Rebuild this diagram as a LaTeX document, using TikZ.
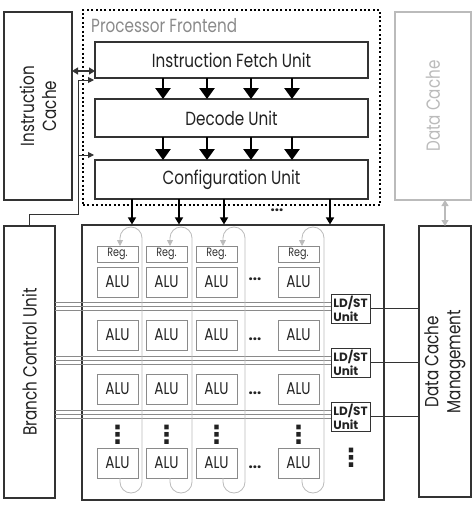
\documentclass[tikz,border=0pt]{standalone}
\usepackage{fontspec}
\setmainfont{Poppins}[FakeStretch=0.8]
\newfontfamily\widefont{Poppins}
\newfontfamily\dvfont{DejaVu Sans}
\usetikzlibrary{arrows.meta,calc}
\definecolor{dk}{HTML}{333333}
\definecolor{txt}{HTML}{222222}
\definecolor{lg}{HTML}{BBBBBB}
\definecolor{mg}{HTML}{8A8A8A}
\begin{document}
\begin{tikzpicture}[x=1pt,y=-1pt,
  box/.style={draw=dk, line width=1.1pt, inner sep=0pt, outer sep=0pt, text=txt, font=\fontsize{19}{22}\selectfont},
  alu/.style={draw=mg, line width=0.9pt, inner sep=0pt, outer sep=0pt, minimum width=41pt, minimum height=30pt, text=txt, font=\fontsize{17}{19}\selectfont},
  reg/.style={draw=mg, line width=0.9pt, inner sep=0pt, outer sep=0pt, minimum width=41pt, minimum height=16pt, text=dk, font=\fontsize{12}{14}\selectfont},
  ldst/.style={draw=dk, line width=0.9pt, inner sep=0pt, outer sep=0pt, minimum width=39pt, minimum height=29pt, text=txt, align=left, font=\widefont\bfseries\fontsize{12}{14}\selectfont},
  fat/.style={draw=black, line width=2.6pt, -{Triangle[width=15pt,length=11pt]}},
  cfgarr/.style={draw=black, line width=1.6pt, -{Triangle[width=8pt,length=7pt]}},
  thin/.style={draw=dk, line width=1pt},
  smarr/.style={draw=dk, line width=1pt, -{Triangle[width=6pt,length=6pt]}},
  dblarr/.style={draw=dk, line width=1.2pt, {Triangle[width=7pt,length=6pt]}-{Triangle[width=7pt,length=6pt]}},
  gdbl/.style={draw=lg, line width=1.3pt, {Triangle[width=7pt,length=6pt]}-{Triangle[width=7pt,length=6pt]}},
  colloop/.style={draw=lg, line width=0.8pt, -{Triangle[width=6pt,length=6pt]}},
  bus/.style={draw=mg, line width=0.8pt},
  dts/.style={inner sep=0pt, text=txt, font=\widefont\bfseries\fontsize{15}{16}\selectfont},
  vdts/.style={inner sep=0pt, text=txt, font=\dvfont\bfseries\fontsize{25}{27}\selectfont}
]
\useasboundingbox (0,0) rectangle (474,506);

% caches and side units
\node[box, minimum width=188pt, minimum height=68pt, rotate=90, align=center] (icache) at (38,106) {Instruction\\Cache};
\node[box, draw=lg, text=lg, minimum width=188pt, minimum height=76pt, rotate=90] (dcache) at (433,106) {Data Cache};
\node[box, minimum width=272pt, minimum height=51pt, rotate=90] (bcu) at (29.5,362) {Branch Control Unit};
\node[box, minimum width=271pt, minimum height=52pt, rotate=90, align=center] (dcm) at (445,361.5) {Data Cache\\Management};

% processor frontend
\node[draw=black, line width=1.6pt, dash pattern=on 2pt off 2.4pt, minimum width=297pt, minimum height=195pt, inner sep=0pt] (fe) at (231.5,107.5) {};
\node[anchor=west, inner sep=0pt, text=mg, font=\fontsize{19}{22}\selectfont] (fetitle) at (91,26) {Processor Frontend};
\node[box, minimum width=273pt, minimum height=36pt] (ifu) at (231.5,60) {Instruction Fetch Unit};
\node[box, minimum width=273pt, minimum height=38pt] (dec) at (231.5,118) {Decode Unit};
\node[box, minimum width=273pt, minimum height=39pt] (cfg) at (231.5,179.5) {Configuration Unit};

\foreach \s in {-68.5,-24.5,19.5,60.5}{
  \draw[fat] ([xshift=\s pt]ifu.south) -- ([xshift=\s pt]dec.north);
  \draw[fat] ([xshift=\s pt]dec.south) -- ([xshift=\s pt]cfg.north);
}

% array
\node[draw=dk, line width=1.1pt, minimum width=302pt, minimum height=275pt, inner sep=0pt] (arr) at (233,362.5) {};

\foreach \s in {-99.5,-52.5,-7.5,98.5}{
  \draw[cfgarr] ([xshift=\s pt]cfg.south) -- ([xshift=\s pt]cfg.south |- arr.north);
}
\node[dts] (cdots) at (277,210) {...};

% regs and alus
\foreach \c/\x in {1/117.5,2/166.5,3/216.5,4/298.5}{
  \node[reg] (reg\c) at (\x,254) {Reg.};
  \foreach \r/\y in {1/282,2/335,3/389,4/463}{
    \node[alu] (alu\r\c) at (\x,\y) {ALU};
  }
}

% ld/st units
\foreach \r/\y in {1/308.5,2/362.5,3/416.5}{
  \node[ldst] (ls\r) at (350.5,\y) {LD/ST\\Unit};
  \draw[thin] (ls\r.east) -- (ls\r.east -| dcm.north);
  \foreach \o in {-6.5,-2.5,1.5}{
    \draw[bus] ([yshift=-\o pt]ls\r.west -| bcu.south) -- ([yshift=-\o pt]ls\r.west);
  }
}

% column loops
\foreach \c/\s in {1/2.5,2/3.5,3/6.5,4/3.5}{
  \draw[colloop] ([xshift=\s pt]alu4\c.south) -- ++(0,4) arc[start angle=180,end angle=0,radius=11] -- ++(0,-244) arc[start angle=0,end angle=-180,radius=11] -- ([xshift=\s pt]reg\c.north);
}

% dots
\foreach \r/\y in {1/279,2/339,3/393,4/467}{
  \node[dts] (hd\r) at (255,\y) {...};
}
\foreach \c in {1,2,3,4}{
  \node[vdts] (vd\c) at ([yshift=13pt]alu4\c.north) {⋮};
}
\node[vdts] (vdr) at (351,458) {⋮};

% connections to instruction cache / branch unit
\coordinate (dA) at ($(ifu.south west)+(0,-7)$);
\draw[dblarr] (dA -| icache.south) -- (dA);
\coordinate (j1) at (78,214);
\coordinate (t1) at (94,80);
\coordinate (t2) at (94,155);
\draw[thin] (bcu.east) |- (j1) -- (j1 |- t1);
\draw[smarr] (j1 |- t1) -- (t1);
\draw[smarr] (j1 |- t2) -- (t2);

% data cache link
\draw[gdbl] (dcm.east) -- (dcm.east |- dcache.west);
\end{tikzpicture}
\end{document}
